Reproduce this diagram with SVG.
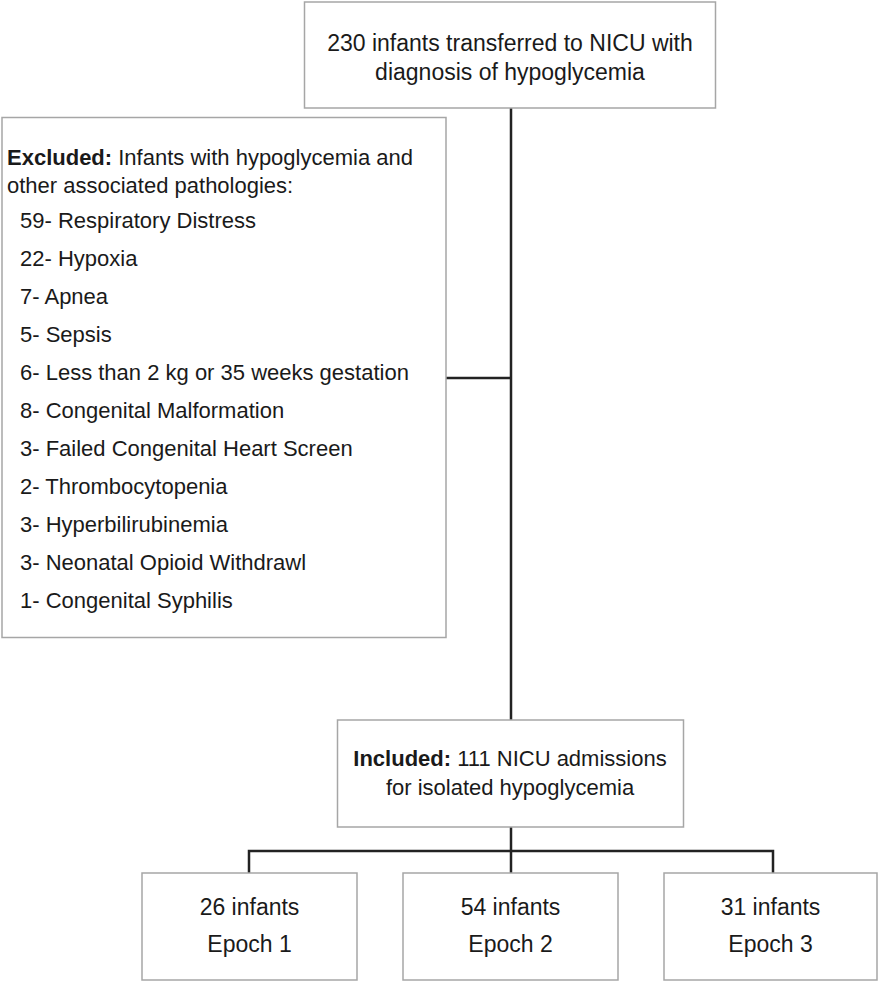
<svg xmlns="http://www.w3.org/2000/svg" width="880" height="982" viewBox="0 0 880 982">
<style>
.box{fill:#fff;stroke:#a6a6a6;stroke-width:1.5}
.t{font-family:"Liberation Sans",Arial,sans-serif;font-size:22px;fill:#1a1a1a}
.l{font-size:23px}
.c{text-anchor:middle}
.b{font-weight:bold}
.ln{stroke:#222;stroke-width:2.5;fill:none}
</style>
<rect width="880" height="982" fill="#fff"/>
<g id="connectors">
<line class="ln" x1="511" y1="108" x2="511" y2="720"/>
<line class="ln" x1="446" y1="378" x2="511" y2="378"/>
<line class="ln" x1="511" y1="827" x2="511" y2="873"/>
<polyline class="ln" points="249,873 249,851 773,851 773,873"/>
</g>
<g id="top">
<rect class="box" x="304.5" y="2" width="411" height="106"/>
<text class="t l c" x="510" y="51">230 infants transferred to NICU with</text>
<text class="t l c" x="510" y="80">diagnosis of hypoglycemia</text>
</g>
<g id="excluded">
<rect class="box" x="2" y="117.5" width="444" height="520"/>
<text class="t" x="7" y="165"><tspan class="b">Excluded:</tspan> Infants with hypoglycemia and</text>
<text class="t" x="7" y="193">other associated pathologies:</text>
<text class="t" x="20" y="228">59- Respiratory Distress</text>
<text class="t" x="20" y="266">22- Hypoxia</text>
<text class="t" x="20" y="304">7- Apnea</text>
<text class="t" x="20" y="342">5- Sepsis</text>
<text class="t" x="20" y="380">6- Less than 2 kg or 35 weeks gestation</text>
<text class="t" x="20" y="418">8- Congenital Malformation</text>
<text class="t" x="20" y="456">3- Failed Congenital Heart Screen</text>
<text class="t" x="20" y="494">2- Thrombocytopenia</text>
<text class="t" x="20" y="532">3- Hyperbilirubinemia</text>
<text class="t" x="20" y="570">3- Neonatal Opioid Withdrawl</text>
<text class="t" x="20" y="608">1- Congenital Syphilis</text>
</g>
<g id="included">
<rect class="box" x="337.5" y="720" width="346" height="107"/>
<text class="t c" x="510" y="766"><tspan class="b">Included:</tspan> 111 NICU admissions</text>
<text class="t c" x="510" y="795">for isolated hypoglycemia</text>
</g>
<g id="epoch1">
<rect class="box" x="142" y="873" width="215" height="107"/>
<text class="t l c" x="249.5" y="915">26 infants</text>
<text class="t l c" x="249.5" y="952">Epoch 1</text>
</g>
<g id="epoch2">
<rect class="box" x="403" y="873" width="215" height="107"/>
<text class="t l c" x="510.5" y="915">54 infants</text>
<text class="t l c" x="510.5" y="952">Epoch 2</text>
</g>
<g id="epoch3">
<rect class="box" x="664" y="873" width="213" height="107"/>
<text class="t l c" x="770.5" y="915">31 infants</text>
<text class="t l c" x="770.5" y="952">Epoch 3</text>
</g>
</svg>
